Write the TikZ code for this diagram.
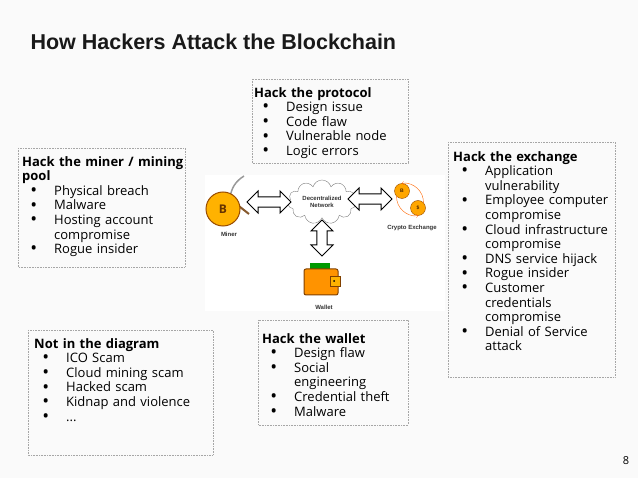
\documentclass[tikz,border=0pt]{standalone}
\usepackage{fontspec}
\setmainfont{Open Sans}
\newfontfamily\ttl{Liberation Sans}
\usepackage{enumitem}
\usetikzlibrary{shapes.arrows,shapes.symbols}
\begin{document}
\begin{tikzpicture}[x=1pt,y=-1pt,
  box/.style={draw=gray!70,densely dotted,line width=0.6pt},
  lst/.style={anchor=north west,inner sep=0pt,font=\fontsize{13}{14.6}\selectfont},
  dar/.style={draw=black,fill=white,double arrow,line width=1pt,minimum height=#1,minimum width=22,double arrow head extend=4,inner sep=3pt},
  small/.style={font=\ttl\fontsize{6}{7}\selectfont\bfseries,text=black!80}]
\useasboundingbox[fill=black!2] (0,0) rectangle (638,478);
\node[anchor=west,font=\ttl\fontsize{21.5}{24}\selectfont\bfseries,text=black!90] (title) at (27,42) {How Hackers Attack the Blockchain};
\setlist[itemize]{leftmargin=32pt,labelsep=17pt,topsep=0pt,itemsep=0pt,parsep=0pt,partopsep=0pt,label=\raisebox{-1.3pt}{\scalebox{1.4}{\textbullet}}}
% boxes
\draw[box] (252,79) rectangle (408,163);
\draw[box] (18,148) rectangle (185,267);
\draw[box] (448,142) rectangle (615,377);
\draw[box] (28,330) rectangle (213,455);
\draw[box] (258,320) rectangle (408,425);
\node[lst,text width=150] (proto) at (254,87) {\textbf{Hack the protocol}\begin{itemize}\item Design issue\item Code flaw\item Vulnerable node\item Logic errors\end{itemize}};
\node[lst,text width=162] (miner) at (22,156) {\textbf{Hack the miner / mining pool}\begin{itemize}\item Physical breach\item Malware\item Hosting account compromise\item Rogue insider\end{itemize}};
\node[lst,text width=160] (exch) at (453,151) {\textbf{Hack the exchange}\begin{itemize}\item Application vulnerability\item Employee computer compromise\item Cloud infrastructure compromise\item DNS service hijack\item Rogue insider\item Customer credentials compromise\item Denial of Service attack\end{itemize}};
\node[lst,text width=180] (notin) at (34,338) {\textbf{Not in the diagram}\begin{itemize}\item ICO Scam\item Cloud mining scam\item Hacked scam\item Kidnap and violence\item ...\end{itemize}};
\node[lst,text width=138] (wal) at (262,333) {\textbf{Hack the wallet}\begin{itemize}\item Design flaw\item Social engineering\item Credential theft\item Malware\end{itemize}};
% diagram
\fill[white] (205,175) rectangle (445,311);
\draw[line width=2pt,brown!70!black] (226,196) -- (249,214);
\draw[line width=1.5pt,gray!80] (230,198) to[bend left=25] (244,176);
\node[circle,fill=orange!60!yellow,draw=orange!60!black,line width=1pt,minimum size=34,font=\bfseries\large,text=orange!40!black] (coin) at (223,209) {B};
\node[small] (minl) at (229,234) {Miner};
\node[cloud,draw=gray,cloud puffs=11,aspect=2,minimum width=68,minimum height=44,align=center,small,inner sep=0pt] (cloud) at (322,202) {Decentralized\\Network};
\node[dar=44] (a1) at (269,202) {};
\node[dar=44] (a2) at (370,199) {};
\node[dar=36,rotate=90] (a3) at (322,238) {};
\node[circle,fill=orange!70!yellow,draw=orange!60!black,minimum size=15,inner sep=0,font=\ttl\tiny\bfseries,text=orange!30!black] (c1) at (402,191) {B};
\node[circle,fill=orange!70!yellow,draw=orange!60!black,minimum size=15,inner sep=0,font=\ttl\tiny\bfseries,text=orange!30!black] (c2) at (418,208) {\$};
\draw[orange!80!red,->] (c1.south west) to[bend right=50] (c2.south);
\draw[orange!80!red,->] (c2.north east) to[bend right=50] (c1.north);
\node[small] (exl) at (412,228) {Crypto Exchange};
\fill[green!60!black] (310,263) rectangle (330,270);
\node[fill=orange!85!yellow,draw=orange!50!black,line width=1pt,rounded corners=2,minimum width=34,minimum height=26] (wallet) at (321,282) {};
\draw[fill=orange!60!yellow,draw=orange!50!black] (330,276) rectangle (340,286);
\fill (334,281) circle (1);
\node[small] (wl) at (324,307) {Wallet};
\node[font=\fontsize{11}{13}\selectfont] (pg) at (626,461) {8};
\end{tikzpicture}
\end{document}
